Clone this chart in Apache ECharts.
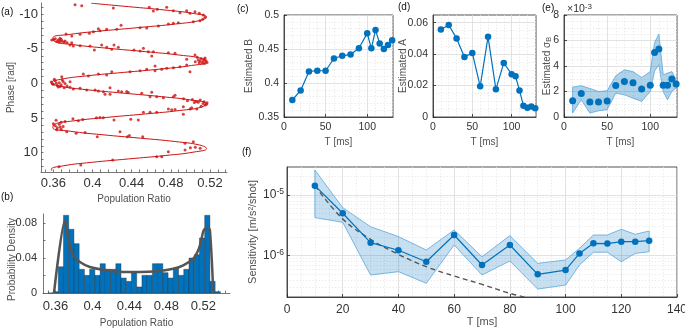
<!DOCTYPE html>
<html><head><meta charset="utf-8">
<script src="https://cdn.jsdelivr.net/npm/echarts@6.0.0/dist/echarts.min.js"></script>
<style>html,body{margin:0;padding:0;background:#fff;}#chart{width:685px;height:330px;}</style>
</head><body><div id="chart"></div>
<script>
// ---------------- data ----------------
// (a) measured points [population ratio, phase]
const scanPoints = [
[0.3822,-11.39],[0.389,-11.24],[0.4213,-10.91],[0.458,-11.0],[0.4622,-10.48],[0.4662,-10.72],[0.4758,-11.0],[0.4826,-10.52],[0.4894,-10.23],[0.4962,-10.52],[0.4996,-10.14],[0.5047,-10.38],[0.5091,-10.14],[0.5132,-9.9],[0.515,-9.57],[0.5126,-9.28],[0.5098,-9.08],[0.503,-8.93],[0.4877,-8.79],[0.4826,-8.70],[0.4775,-8.60],[0.4673,-8.31],[0.4486,-8.06],[0.4554,-8.02],[0.4292,-8.41],[0.4248,-7.83],[0.4145,-7.83],[0.4077,-7.63],[0.406,-7.92],[0.4009,-7.49],[0.3968,-7.25],[0.3873,-7.11],[0.3788,-6.86],[0.373,-7.15],[0.3668,-6.53],
[0.3584,-6.29],[0.362,-6.45],[0.365,-6.3],[0.367,-6.2],[0.369,-6.1],[0.3635,-6.05],[0.366,-5.95],[0.371,-6.0],[0.374,-5.9],[0.3605,-6.35],[0.368,-6.4],[0.372,-6.15],
[0.3788,-5.9],[0.3771,-5.56],[0.3804,-5.42],[0.3873,-5.46],[0.3975,-5.42],[0.4019,-4.84],[0.4094,-5.56],[0.4145,-5.23],[0.4197,-4.94],[0.422,-5.56],[0.4264,-5.23],[0.4424,-4.84],[0.4486,-4.70],[0.452,-5.09],[0.457,-4.6],[0.4622,-4.6],[0.4775,-4.45],[0.4605,-3.97],[0.4843,-4.36],[0.4962,-3.5],[0.5047,-4.12],
[0.507,-3.8],[0.511,-3.6],[0.514,-3.5],[0.516,-3.3],[0.513,-3.2],[0.517,-3.05],[0.512,-2.95],[0.508,-3.4],[0.515,-3.7],[0.51,-3.25],[0.505,-3.15],[0.5145,-2.9],[0.509,-3.0],
[0.4996,-1.71],[0.4962,-2.67],[0.4894,-2.43],[0.4826,-2.28],[0.4758,-2.2],[0.4707,-2.05],[0.4639,-2.53],[0.4639,-1.85],[0.4554,-2.05],[0.4486,-1.85],[0.4383,-1.71],[0.4197,-1.71],[0.4145,-1.23],[0.406,-1.37],[0.3958,-1.08],[0.3906,-1.37],[0.3771,-0.26],[0.3686,-0.98],
[0.358,-0.2],[0.36,0.1],[0.362,-0.4],[0.364,0.3],[0.366,-0.1],[0.368,0.2],[0.361,-0.6],[0.365,0.5],[0.370,-0.3],[0.372,0.0],[0.363,-0.05],[0.367,0.45],[0.374,0.35],[0.369,-0.55],[0.359,0.05],[0.371,0.6],
[0.377,0.55],[0.3804,0.8],[0.3873,0.69],[0.3941,0.94],[0.4026,0.94],[0.406,1.08],[0.4111,1.19],[0.4179,0.61],[0.4179,1.56],[0.4128,1.56],[0.4264,1.1],[0.4298,1.2],[0.4349,1.15],[0.4366,1.3],[0.4503,1.42],[0.4588,1.91],[0.4605,1.27],[0.4656,1.91],[0.4724,2.05],[0.4826,1.9],[0.4843,1.7],
[0.493,2.2],[0.497,2.5],[0.502,2.3],[0.506,2.6],[0.51,2.4],[0.513,2.9],[0.515,3.1],[0.517,2.8],[0.511,3.3],[0.508,2.7],[0.514,2.65],[0.5165,3.0],[0.504,2.75],
[0.5065,3.69],[0.5013,3.5],[0.4996,3.7],[0.4928,3.35],[0.4928,4.45],[0.4775,3.7],[0.4809,3.8],[0.4843,3.75],[0.452,4.16],[0.4588,4.16],[0.4656,4.16],[0.4391,5.17],[0.4468,5.27],[0.422,5.27],[0.404,4.94],[0.4077,4.9],[0.411,4.94],[0.38,5.1],[0.3856,5.4],[0.39,5.2],[0.3628,5.3],[0.368,5.6],[0.372,5.5],
[0.36,5.8],[0.362,6.1],[0.364,6.4],[0.366,5.9],[0.368,6.6],[0.37,6.2],[0.3635,6.7],[0.367,6.3],
[0.3737,6.96],[0.3833,7.2],[0.3924,7.1],[0.4049,7.69],[0.4281,6.96],[0.4356,7.69],[0.4377,7.5],[0.4513,7.69],[0.4775,9.86],[0.4945,8.64],[0.4945,9.61],[0.503,8.41],[0.5,9.3],[0.505,9.2],[0.51,9.35],[0.4656,10.58],[0.4707,10.58],[0.4207,11.05],[0.388,11.78],[0.3658,12.02]
];
// (a) fitted curve
const fitPhase = [-11.6,-11.1,-10.6,-10.1,-9.6,-9.1,-8.6,-8.1,-7.6,-7.1,-6.6,-6.1,-5.6,-5.1,-4.6,-4.1,-3.6,-3.1,-2.6,-2.1,-1.6,-1.1,-0.6,-0.1,0.4,0.9,1.4,1.9,2.4,2.9,3.4,3.9,4.4,4.9,5.4,5.9,6.4,6.9,7.4,7.9,8.4,8.9,9.4,9.9,10.4,10.9,11.4,11.9,12.4,12.6];
const fitRatio = [0.3988,0.4368,0.4750,0.5039,0.5165,0.5096,0.4849,0.4488,0.4097,0.3773,0.3596,0.3609,0.3808,0.4146,0.4539,0.4891,0.5116,0.5159,0.5011,0.4705,0.4316,0.3941,0.3674,0.3577,0.3674,0.3942,0.4316,0.4703,0.5009,0.5159,0.5117,0.4892,0.4540,0.4146,0.3809,0.3609,0.3596,0.3773,0.4096,0.4488,0.4851,0.5096,0.5165,0.5039,0.4750,0.4369,0.3988,0.3701,0.3579,0.3584];
// (b) histogram
const histStart = 0.3517;
const histWidth = 0.00566;
const histDensity = [0,0.0015,0.030,0.0888,0.0728,0.0564,0.0271,0.0202,0.0271,0.0202,0.0335,0.0271,0.0271,0.0335,0.0171,0.0133,0.023,0.0069,0.0202,0.0202,0.0335,0.0335,0.0232,0.0171,0.0286,0.0202,0.0271,0.040,0.0438,0.0629,0.0888,0.0133,0.0015];
const pdfRatio = [0.3584,0.3703,0.3721,0.3739,0.3757,0.3793,0.3865,0.3973,0.4154,0.4334,0.4514,0.4695,0.4875,0.4983,0.5091,0.5128,0.5164,0.52,0.5218,0.5254,0.5272,0.5308];
const pdfDensity = [0,0.0831,0.0716,0.0621,0.0545,0.0431,0.0354,0.0297,0.0259,0.024,0.024,0.0248,0.0278,0.0316,0.0392,0.045,0.0545,0.0705,0.0735,0.0743,0.0716,0];
// (c)-(f)
const T = [10,20,30,40,50,60,70,80,90,100,105,110,115,120,125,130];
const estB = [0.375,0.389,0.417,0.418,0.418,0.436,0.440,0.442,0.451,0.473,0.451,0.478,0.458,0.450,0.456,0.463];
const estA = [0.0557,0.0585,0.0500,0.0382,0.0408,0.0195,0.0510,0.0176,0.0344,0.0272,0.0259,0.0169,0.0072,0.0059,0.0067,0.0055];
// sigma_B in units of 1e-3
const sigmaB = [1.27,1.84,1.17,1.17,1.25,2.47,2.78,2.68,2.19,2.5,5.05,5.34,2.5,2.5,2.99,2.58];
const sigmaBUpper = [2.34,2.45,2.24,2.0,2.05,3.23,3.7,3.56,3.1,3.56,5.85,6.5,3.3,3.44,3.56,2.91];
const sigmaBLower = [0.31,1.35,0.31,0.49,0.57,1.87,1.74,1.48,1.22,2.0,3.6,4.1,2.0,1.35,2.0,2.27];
// sensitivity [m/s^2/shot]
const sens = [1.42e-5,4.99e-6,1.64e-6,1.23e-6,7.96e-7,2.19e-6,7.03e-7,1.5e-6,4.93e-7,5.8e-7,1.09e-6,1.6e-6,1.58e-6,1.7e-6,1.7e-6,1.77e-6];
const sensUpper = [2.58e-5,6.18e-6,3.0e-6,2.06e-6,1.24e-6,2.65e-6,9.6e-7,2.14e-6,7.48e-7,8.5e-7,1.32e-6,2.19e-6,2.19e-6,2.72e-6,2.25e-6,2.55e-6];
const sensLower = [4.24e-6,3.55e-6,4.81e-7,5.46e-7,3.51e-7,1.5e-6,4.81e-7,8.18e-7,2.82e-7,3.29e-7,7.03e-7,1.14e-6,1.14e-6,7.96e-7,1.09e-6,1.16e-6];
const limitT = [10,20,30,40,50,60,70,80,88];
const limitSens = [1.42e-5,4.03e-6,1.86e-6,1.05e-6,6.59e-7,4.63e-7,3.37e-7,2.4e-7,1.95e-7];
// tick labels
const ratioTicks = [0.36,0.40,0.44,0.48,0.52];
const phaseTicks = [-10,-5,0,5,10];
const densityTicks = [0,0.04,0.08];
const tTicks = [0,50,100];
const bTicks = [0.35,0.40,0.45,0.50];
const aTicks = [0,0.02,0.04,0.06];
const sigTicks = [0,2,4,6,8];
const tTicksF = [0,20,40,60,80,100,120,140];
const sensDecades = [-6,-5];

// ---------------- helpers ----------------
const FONT = '"Liberation Sans", Arial, Helvetica, sans-serif';
const AX = '#262626';
const BLUE = '#0072BD';
const RED = '#cc1111';
const GRID_MAJOR = '#dadada';
const GRID_MINOR = '#e2e2e2';
function range(a, b, s) { const r = []; for (let v = a; v <= b + 1e-9; v += s) r.push(+v.toFixed(6)); return r; }
function without(arr, ex) { return arr.filter(v => !ex.some(e => Math.abs(e - v) < 1e-9)); }
const log10 = v => Math.log10(v);

function mainAxis(o) {
  return {
    type: 'value', gridIndex: o.grid, min: o.min, max: o.max, inverse: !!o.inverse, position: o.position,
    name: o.name || '', nameLocation: 'middle', nameGap: o.nameGap || 20, nameMoveOverlap: false,
    nameTextStyle: Object.assign({ color: '#505050', fontFamily: FONT, fontSize: o.nameSize || 9.5 }, o.nameStyle || {}),
    axisLine: { show: true, onZero: false, lineStyle: { color: o.lineColor || AX, width: 0.8 } },
    axisTick: { show: true, inside: true, length: o.tickLen || 3, customValues: o.ticks || o.labels, lineStyle: { color: o.lineColor || AX, width: 0.8 } },
    axisLabel: Object.assign({ show: true, customValues: o.labels, color: '#333', fontFamily: FONT, fontSize: o.fontSize || 10.5, margin: o.margin == null ? 5 : o.margin, hideOverlap: false }, o.labelExtra || {}),
    splitLine: { show: !!o.gridLines, lineStyle: { color: GRID_MAJOR, width: 0.8 } },
    minorTick: { show: false }, minorSplitLine: { show: false }
  };
}
function minorAxis(o) {
  return {
    type: 'value', gridIndex: o.grid, min: o.min, max: o.max, inverse: !!o.inverse,
    axisLine: { show: false, onZero: false }, axisTick: { show: false, customValues: o.minor },
    axisLabel: { show: false }, name: '',
    splitLine: { show: true, lineStyle: { color: GRID_MINOR, width: 0.8, type: [1.2, 2] } }
  };
}
const boxGrid = (l, t, w, h) => ({ left: l, top: t, width: w, height: h, show: true, borderColor: AX, borderWidth: 0.8, backgroundColor: 'transparent', containLabel: false, outerBoundsMode: 'none' });
const plainGrid = (l, t, w, h) => ({ left: l, top: t, width: w, height: h, show: false, containLabel: false, outerBoundsMode: 'none' });

const tMinor = without(range(10, 130, 10), tTicks);
const tMinorF = without(range(5, 135, 5), tTicksF);
const bMinor = without(range(0.36, 0.49, 0.01), bTicks);
const aMinor = without(range(0.005, 0.06, 0.005), aTicks);
const sigMinor = without(range(0.5, 7.5, 0.5), sigTicks);
const sensMinor = [];
for (let n = -7; n <= -5; n++) for (let k = 2; k <= 9; k++) sensMinor.push(Math.log10(k * Math.pow(10, n)));

const xAxes = [
  mainAxis({ grid: 0, min: 0.3474, max: 0.5374, labels: ratioTicks, ticks: range(0.352, 0.536, 0.008), tickLen: 2.5, lineColor: '#555', fontSize: 13, margin: 5, name: 'Population Ratio', nameGap: 22, nameSize: 10 }),
  mainAxis({ grid: 1, min: 0.3465, max: 0.5489, labels: ratioTicks, ticks: range(0.352, 0.544, 0.008), tickLen: 2.5, lineColor: '#555', fontSize: 13, margin: 7, name: 'Population Ratio', nameGap: 25, nameSize: 10 }),
  mainAxis({ grid: 2, min: 0, max: 131, labels: tTicks, gridLines: true, name: 'T [ms]', nameGap: 20, nameSize: 10 }),
  minorAxis({ grid: 2, min: 0, max: 131, minor: tMinor }),
  mainAxis({ grid: 3, min: 0, max: 131, labels: tTicks, gridLines: true, name: 'T [ms]', nameGap: 20, nameSize: 10 }),
  minorAxis({ grid: 3, min: 0, max: 131, minor: tMinor }),
  mainAxis({ grid: 4, min: 0, max: 131, labels: tTicks, gridLines: true, name: 'T [ms]', nameGap: 20, nameSize: 10 }),
  minorAxis({ grid: 4, min: 0, max: 131, minor: tMinor }),
  mainAxis({ grid: 5, min: 0, max: 140, labels: tTicksF, gridLines: true, fontSize: 12, margin: 7, name: 'T [ms]', nameGap: 19, nameSize: 11 }),
  minorAxis({ grid: 5, min: 0, max: 140, minor: tMinorF })
];
const yAxes = [
  mainAxis({ grid: 0, min: -11.63, max: 12.79, inverse: true, labels: phaseTicks, ticks: range(-11, 12, 1), tickLen: 2.5, lineColor: '#555', fontSize: 13, margin: 3, name: 'Phase [rad]', nameGap: 25, nameSize: 10 }),
  mainAxis({ grid: 1, min: 0, max: 0.0903, labels: densityTicks, ticks: [0, 0.02, 0.04, 0.06, 0.08], tickLen: 2.5, lineColor: '#555', fontSize: 11, margin: 6, name: 'Probability Density', nameGap: 26, nameSize: 10, nameStyle: { padding: [0, 12, 0, 0] } }),
  mainAxis({ grid: 2, min: 0.35, max: 0.5, labels: bTicks, gridLines: true, name: 'Estimated B', nameGap: 30, nameSize: 10 }),
  minorAxis({ grid: 2, min: 0.35, max: 0.5, minor: bMinor }),
  mainAxis({ grid: 3, min: 0, max: 0.0649, labels: aTicks, gridLines: true, name: 'Estimated A', nameGap: 25, nameSize: 10 }),
  minorAxis({ grid: 3, min: 0, max: 0.0649, minor: aMinor }),
  mainAxis({ grid: 4, min: 0, max: 8, labels: sigTicks, gridLines: true, name: 'Estimated σ{sub|B}', nameGap: 11, nameSize: 10,
    nameStyle: { rich: { sub: { fontSize: 7.5, color: '#505050', fontFamily: FONT, verticalAlign: 'bottom', padding: [3, 0, 0, 0] } } } }),
  minorAxis({ grid: 4, min: 0, max: 8, minor: sigMinor }),
  mainAxis({ grid: 5, min: -6.68, max: -4.54, labels: sensDecades, gridLines: true, fontSize: 12, margin: 3,
    name: 'Sensitivity [m/s²/shot]', nameGap: 29, nameSize: 11,
    labelExtra: { formatter: v => '10{sup|' + Math.round(v) + '}', rich: { sup: { fontSize: 8.5, color: '#333', fontFamily: FONT, verticalAlign: 'top', padding: [0, 0, 6, 0] } } } }),
  minorAxis({ grid: 5, min: -6.68, max: -4.54, minor: sensMinor })
];

const titleStyle = { fontSize: 10, fontWeight: 'normal', color: '#111', fontFamily: FONT };
const titles = [
  { text: '(a)', left: 1, top: 7 }, { text: '(b)', left: 1, top: 192 },
  { text: '(c)', left: 237, top: 4 }, { text: '(d)', left: 398, top: 2 },
  { text: '(e)', left: 542, top: 3 }, { text: '(f)', left: 242, top: 147 }
].map(t => Object.assign({ padding: 0, textStyle: titleStyle }, t));
titles.push({ text: '×10{sup|-3}', left: 567, top: 3, padding: 0,
  textStyle: { fontSize: 10.5, fontWeight: 'normal', color: '#333', fontFamily: FONT,
    rich: { sup: { fontSize: 8, color: '#333', fontFamily: FONT, verticalAlign: 'top', padding: [0, 0, 5, 0] } } } });

// band polygon drawn from [T, lower, upper] items through the axis scales
function bandRenderer(fill, stroke) {
  return function (params, api) {
    if (params.dataIndex !== 0) return null;
    const n = params.dataInsideLength;
    const pts = [];
    for (let i = 0; i < n; i++) pts.push(api.coord([api.value(0, i), api.value(2, i)]));
    for (let i = n - 1; i >= 0; i--) pts.push(api.coord([api.value(0, i), api.value(1, i)]));
    return { type: 'polygon', shape: { points: pts }, style: { fill: fill, stroke: stroke, lineWidth: 0.8 } };
  };
}

const bandEdge = '#5aa6dc';
const series = [
  // (a)
  { type: 'line', xAxisIndex: 0, yAxisIndex: 0, data: fitRatio.map((x, i) => [x, fitPhase[i]]), smooth: 0.5, showSymbol: false, lineStyle: { color: RED, width: 1 }, z: 2 },
  { type: 'scatter', xAxisIndex: 0, yAxisIndex: 0, data: scanPoints, symbolSize: 3, itemStyle: { color: RED }, z: 3 },
  // (b)
  { type: 'custom', xAxisIndex: 1, yAxisIndex: 1,
    data: histDensity.map((d, i) => [histStart + i * histWidth, histStart + (i + 1) * histWidth, d]),
    encode: { x: [0, 1], y: 2 },
    renderItem: (params, api) => {
      const p0 = api.coord([api.value(0), api.value(2)]);
      const p1 = api.coord([api.value(1), 0]);
      return { type: 'rect', shape: { x: p0[0], y: p0[1], width: p1[0] - p0[0], height: p1[1] - p0[1] },
        style: { fill: BLUE, stroke: '#2a2a2a', lineWidth: 0.4 } };
    }, z: 2 },
  { type: 'line', xAxisIndex: 1, yAxisIndex: 1, data: pdfRatio.map((x, i) => [x, pdfDensity[i]]), smooth: 0.25, showSymbol: false, lineStyle: { color: '#555', width: 2.5 }, z: 4 },
  // (c)
  { type: 'line', xAxisIndex: 2, yAxisIndex: 2, data: T.map((t, i) => [t, estB[i]]), symbol: 'circle', symbolSize: 6.5, itemStyle: { color: BLUE }, lineStyle: { color: BLUE, width: 1.2 }, z: 4 },
  // (d)
  { type: 'line', xAxisIndex: 4, yAxisIndex: 4, data: T.map((t, i) => [t, estA[i]]), symbol: 'circle', symbolSize: 6.5, itemStyle: { color: BLUE }, lineStyle: { color: BLUE, width: 1.2 }, z: 4 },
  // (e)
  { type: 'custom', xAxisIndex: 6, yAxisIndex: 6, data: T.map((t, i) => [t, sigmaBLower[i], sigmaBUpper[i]]),
    encode: { x: 0, y: [1, 2] }, renderItem: bandRenderer('rgba(0,114,189,0.32)', bandEdge), z: 2 },
  { type: 'scatter', xAxisIndex: 6, yAxisIndex: 6, data: T.map((t, i) => [t, sigmaB[i]]), symbolSize: 7, itemStyle: { color: BLUE, opacity: 1 }, z: 5 },
  // (f)
  { type: 'custom', xAxisIndex: 8, yAxisIndex: 8, data: T.map((t, i) => [t, log10(sensLower[i]), log10(sensUpper[i])]),
    encode: { x: 0, y: [1, 2] }, renderItem: bandRenderer('rgba(0,114,189,0.22)', bandEdge), z: 2 },
  { type: 'line', xAxisIndex: 8, yAxisIndex: 8, data: limitT.map((t, i) => [t, log10(limitSens[i])]), smooth: 0.4, symbol: 'none', lineStyle: { color: '#555', width: 1.4, type: [5, 3.5] }, z: 3 },
  { type: 'line', xAxisIndex: 8, yAxisIndex: 8, data: T.map((t, i) => [t, log10(sens[i])]), symbol: 'circle', symbolSize: 6.5, itemStyle: { color: BLUE }, lineStyle: { color: BLUE, width: 1.2 }, z: 4 }
];

const chart = echarts.init(document.getElementById('chart'), null, { renderer: 'canvas', width: 685, height: 330 });
chart.setOption({
  animation: false,
  backgroundColor: '#fff',
  textStyle: { fontFamily: FONT },
  title: titles,
  grid: [
    plainGrid(41, 3, 186, 169),
    plainGrid(43, 214, 187, 79),
    boxGrid(284, 15, 109, 102),
    boxGrid(433, 15, 103, 102),
    boxGrid(564, 15, 113, 102),
    boxGrid(287, 167, 390, 130)
  ],
  xAxis: xAxes,
  yAxis: yAxes,
  series: series
});
</script>
</body></html>
